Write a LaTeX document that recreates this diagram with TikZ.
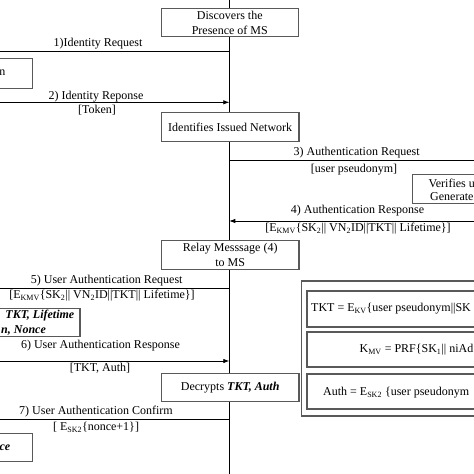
\documentclass[tikz,border=0pt]{standalone}
\usepackage{fontspec}
\setmainfont{Liberation Serif}
\usetikzlibrary{arrows.meta}
\begin{document}
\begin{tikzpicture}[x=1pt,y=-1pt,
  every node/.style={font=\fontsize{12}{15}\selectfont, inner sep=0pt},
  procbox/.style={draw=black!65, line width=1.1pt, fill=white, align=center},
  msg/.style={line width=0.8pt},
  msgarrow/.style={msg, -{Latex[length=6pt,width=4.5pt]}},
  bi/.style={font=\fontsize{12}{15}\selectfont\bfseries\itshape}
]
\useasboundingbox (0,0) rectangle (474,474);
\clip (0,0) rectangle (474,474);

% lifeline
\coordinate (top) at (229.3,-2);
\coordinate (bot) at (229.3,476);
\draw[msg] (top) -- (bot);

% central process boxes
\node[procbox, minimum width=137pt, minimum height=28.5pt] (discover) at (229.8,22.5) {Discovers the\\Presence of MS};
\node[procbox, minimum width=137.5pt, minimum height=28.3pt] (identify) at (230.2,126.9) {Identifies Issued Network};
\node[procbox, minimum width=137.5pt, minimum height=29.3pt] (relay) at (230.2,254.7) {Relay Messsage (4)\\to MS};
\node[procbox, minimum width=137.5pt, minimum height=27.7pt] (decrypt) at (230.2,387.2) {Decrypts \textbf{\textit{TKT, Auth}}};

% left (clipped) boxes
\node[procbox, minimum width=60pt, minimum height=29.3pt] (lbox1) at (2.3,73.4) {};
\node[anchor=east] (lbox1t) at (5.5,73) {n};
\node[procbox, minimum width=110pt, minimum height=28.4pt] (lbox2) at (25,322.5) {};
\node[anchor=east, bi] (lbox2a) at (74.5,315.5) {TKT, Lifetime};
\node[anchor=west, bi] (lbox2b) at (1,330.5) {n, Nonce};
\node[procbox, minimum width=60pt, minimum height=28.4pt] (lbox3) at (2.7,447.5) {};
\node[anchor=east, bi] (lbox3t) at (10.5,448) {ce};

% right (clipped) box
\node[procbox, minimum width=100pt, minimum height=29pt] (rbox) at (462.7,189) {};
\node[anchor=west] (rboxa) at (428.3,183.5) {Verifies u};
\node[anchor=west] (rboxb) at (430,196.5) {Generate};

% right definitions panel
\node[procbox, minimum width=200pt, minimum height=135pt] (panel) at (401.5,348.5) {};
\node[procbox, minimum width=200pt, minimum height=36pt] (def1) at (407,309) {};
\node[procbox, minimum width=200pt, minimum height=35pt] (def2) at (407,349.5) {};
\node[procbox, minimum width=200pt, minimum height=35pt] (def3) at (407,391.5) {};
\node[anchor=west] (def1t) at (311,309) {TKT = E\textsubscript{KV}\{user pseudonym||SK};
\node[anchor=west] (def2t) at (359.5,350) {K\textsubscript{MV} = PRF\{SK\textsubscript{1}|| niAd};
\node[anchor=west] (def3t) at (323,393) {Auth = E\textsubscript{SK2} \{user pseudonym};

% message endpoints
\coordinate (a1) at (229.3,51);    \coordinate (e1) at (-3,51);
\coordinate (a2) at (229.3,102.3); \coordinate (e2) at (-3,102.3);
\coordinate (a3) at (229.3,160);   \coordinate (e3) at (477,160);
\coordinate (a4) at (229.3,221);   \coordinate (e4) at (477,221);
\coordinate (a5) at (229.3,288.3); \coordinate (e5) at (-3,288.3);
\coordinate (a6) at (229.3,361);   \coordinate (e6) at (-3,361);
\coordinate (a7) at (229.3,419.3); \coordinate (e7) at (-3,419.3);

\draw[msg] (a1) -- (e1);
\draw[msgarrow] (e2) -- (a2);
\draw[msg] (a3) -- (e3);
\draw[msgarrow] (e4) -- (a4);
\draw[msg] (a5) -- (e5);
\draw[msgarrow] (e6) -- (a6);
\draw[msg] (a7) -- (e7);

% message labels
\node (m1) at (98,44) {1)Identity Request};
\node (m2) at (96,96.7) {2) Identity Reponse};
\node (m2b) at (97,110.5) {[Token]};
\node (m3) at (356.7,152.7) {3) Authentication Request};
\node (m3b) at (354,170) {[user pseudonym]};
\node (m4) at (357.5,211) {4) Authentication Response};
\node (m4b) at (358,228.5) {[E\textsubscript{KMV}\{SK\textsubscript{2}|| VN\textsubscript{2}ID||TKT|| Lifetime\}]};
\node (m5) at (106.7,280.5) {5) User Authentication Request};
\node (m5b) at (102,295.5) {[E\textsubscript{KMV}\{SK\textsubscript{2}|| VN\textsubscript{2}ID||TKT|| Lifetime\}]};
\node (m6) at (100.5,345.5) {6) User Authentication Response};
\node (m6b) at (100,368.5) {[TKT, Auth]};
\node (m7) at (96,411.5) {7) User Authentication Confirm};
\node (m7b) at (96,427.5) {[ E\textsubscript{SK2}\{nonce+1\}]};
\end{tikzpicture}
\end{document}
